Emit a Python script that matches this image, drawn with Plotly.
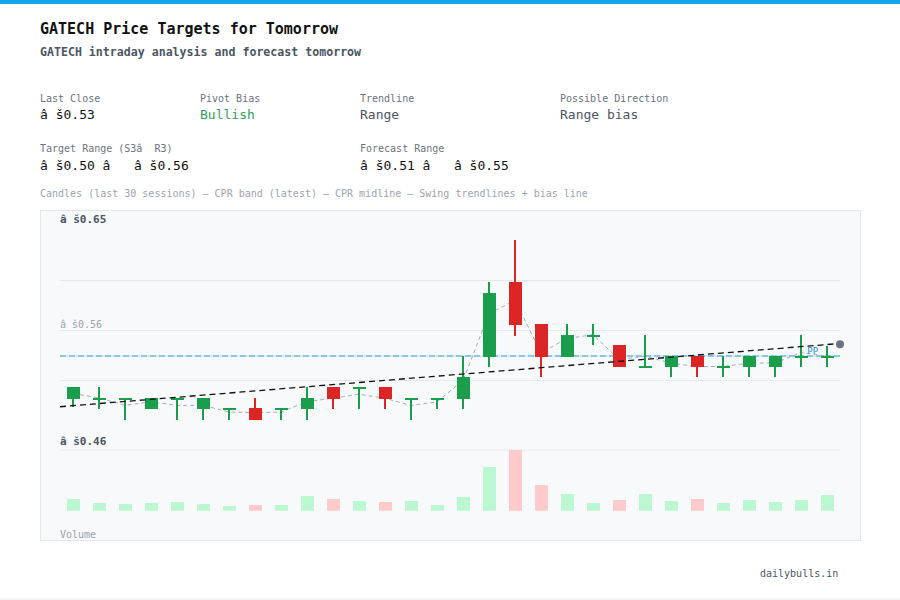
import plotly.graph_objects as go
import numpy as np

# ---------------- data ----------------
sessions = list(range(30))
opens = [0.4897, 0.4888, 0.4888, 0.4800, 0.4888, 0.4800, 0.4790, 0.4809, 0.4790, 0.4800,
         0.5009, 0.4992, 0.5009, 0.4885, 0.4885, 0.4897, 0.5297, 0.6006, 0.5607, 0.5297,
         0.5486, 0.5408, 0.5192, 0.5201, 0.5303, 0.5192, 0.5201, 0.5201, 0.5287, 0.5287]
highs = [0.5009, 0.5009, 0.4904, 0.4904, 0.4904, 0.4904, 0.4809, 0.4904, 0.4809, 0.5009,
         0.5009, 0.5009, 0.5009, 0.4901, 0.4901, 0.5303, 0.6006, 0.6405, 0.5607, 0.5607,
         0.5607, 0.5408, 0.5503, 0.5303, 0.5303, 0.5303, 0.5303, 0.5303, 0.5503, 0.5401]
lows = [0.4821, 0.4802, 0.4695, 0.4795, 0.4695, 0.4695, 0.4695, 0.4695, 0.4695, 0.4695,
        0.4800, 0.4800, 0.4800, 0.4695, 0.4800, 0.4800, 0.5201, 0.5493, 0.5101, 0.5297,
        0.5408, 0.5201, 0.5192, 0.5101, 0.5101, 0.5101, 0.5101, 0.5101, 0.5201, 0.5201]
closes = [0.5009, 0.4904, 0.4904, 0.4904, 0.4904, 0.4904, 0.4809, 0.4695, 0.4809, 0.4904,
          0.4897, 0.5009, 0.4897, 0.4901, 0.4901, 0.5106, 0.5905, 0.5600, 0.5297, 0.5503,
          0.5503, 0.5201, 0.5208, 0.5303, 0.5201, 0.5208, 0.5303, 0.5303, 0.5303, 0.5303]
volumes = [117, 77, 67, 77, 87, 67, 47, 57, 57, 147,
           117, 97, 87, 97, 57, 137, 437, 607, 257, 167,
           77, 107, 167, 97, 117, 77, 107, 87, 107, 157]
pp_level = 0.5303
cpr_bc = 0.5295
cpr_tc = 0.5312
trend_start = 0.4821
trend_end = 0.5422
bias_point = 0.5414
price_min, price_max = 0.46, 0.65
price_labels = ["â\u00a0š0.65", "â\u00a0š0.56", "â\u00a0š0.46"]

FONT = "DejaVu Sans Mono"
W, H = 900, 600
GREEN = "#1a9e4b"
RED = "#dc2626"

def px(x):
    return x / W

def py(y):
    return 1 - y / H

o = np.array(opens); c = np.array(closes); h = np.array(highs); l = np.array(lows)
up = c >= o
body_col = [GREEN if u else RED for u in up]
vol_col = ["#bbf7d0" if u else "#fecaca" for u in up]
hlc3 = (h + l + c) / 3

fig = go.Figure()

# typical-price dashed line (under candles)
fig.add_trace(go.Scatter(x=sessions, y=hlc3, mode="lines",
                         line=dict(color="#a8adb5", width=1, dash="4px,3px"),
                         xaxis="x", yaxis="y", hoverinfo="skip"))

# wicks
fig.add_trace(go.Bar(x=sessions, y=h - l, base=l, width=0.05,
                     marker=dict(color=body_col, line=dict(width=0)),
                     xaxis="x", yaxis="y3", hoverinfo="skip"))
# bodies
body_h = np.maximum(np.abs(c - o), 0.0012)
fig.add_trace(go.Bar(x=sessions, y=body_h, base=np.minimum(o, c), width=0.5,
                     marker=dict(color=body_col, line=dict(width=0)),
                     xaxis="x", yaxis="y3", hoverinfo="skip"))
# trendline + bias
fig.add_trace(go.Scatter(x=[-0.5, 29.5], y=[trend_start, trend_end], mode="lines",
                         line=dict(color="#111111", width=1.3, dash="6px,4px"),
                         xaxis="x", yaxis="y3", hoverinfo="skip", cliponaxis=False))
fig.add_trace(go.Scatter(x=[29.5], y=[bias_point], mode="markers",
                         marker=dict(color="#6b7280", size=8),
                         xaxis="x", yaxis="y3", hoverinfo="skip", cliponaxis=False))
# PP label
fig.add_trace(go.Scatter(x=[28.45], y=[pp_level], mode="text", text=["PP"],
                         textposition="top center",
                         textfont=dict(family=FONT, size=9, color="#1d8fd6"),
                         xaxis="x", yaxis="y3", hoverinfo="skip", cliponaxis=False))

# volume
fig.add_trace(go.Bar(x=sessions, y=volumes, width=0.5,
                     marker=dict(color=vol_col, line=dict(width=0)),
                     xaxis="x2", yaxis="y2", hoverinfo="skip"))

xdom = [px(60), px(840)]
fig.update_layout(
    width=W, height=H, autosize=False,
    margin=dict(l=0, r=0, t=0, b=0),
    paper_bgcolor="white", plot_bgcolor="rgba(0,0,0,0)",
    showlegend=False, barmode="overlay", bargap=0,
    xaxis=dict(domain=xdom, range=[-0.5, 29.5], visible=False, anchor="y"),
    xaxis2=dict(domain=xdom, range=[-0.5, 29.5], visible=False, anchor="y2"),
    yaxis=dict(domain=[py(430), py(230)], range=[price_min, price_max],
               tickvals=list(np.linspace(price_min, price_max, 5)),
               showticklabels=False, showgrid=True, gridcolor="#e6e8ec", gridwidth=1,
               zeroline=False, showline=False, ticks=""),
    yaxis3=dict(overlaying="y", range=[price_min, price_max], visible=False),
    yaxis2=dict(domain=[py(510.7), py(450)], range=[0, max(volumes)], visible=False),
)

shapes = [
    # top accent bar
    dict(type="rect", xref="paper", yref="paper", x0=0, x1=1, y0=py(4), y1=1,
         fillcolor="#14a4ec", line=dict(width=0), layer="below"),
    # plot box
    dict(type="rect", xref="paper", yref="paper", x0=px(40.5), x1=px(860.5), y0=py(540.5), y1=py(210.5),
         fillcolor="#f8f9fb", line=dict(color="#e3e6ea", width=1), layer="below"),
    # volume top gridline
    dict(type="line", xref="paper", yref="paper", x0=px(60), x1=px(840), y0=py(450), y1=py(450),
         line=dict(color="#e6e8ec", width=1), layer="below"),
    # bottom line
    dict(type="line", xref="paper", yref="paper", x0=0, x1=1, y0=py(599), y1=py(599),
         line=dict(color="#e5e7eb", width=1), layer="below"),
    # CPR band
    dict(type="rect", xref="x", yref="y", x0=-0.5, x1=29.5, y0=cpr_bc, y1=cpr_tc,
         fillcolor="rgba(56,170,230,0.18)", line=dict(width=0), layer="between"),
    # CPR midline
    dict(type="line", xref="x", yref="y", x0=-0.5, x1=29.5, y0=pp_level, y1=pp_level,
         line=dict(color="#3a9fdc", width=1.2, dash="6px,3px"), layer="between"),
]
fig.update_layout(shapes=shapes)

def ann(text, x, y, size, color, xanchor="left"):
    return dict(text=text, x=px(x), y=py(y), xref="paper", yref="paper",
                xanchor=xanchor, yanchor="middle", showarrow=False,
                font=dict(family=FONT, size=size, color=color))

NB = "\u00a0"
X0, X1, X2, X3 = 37.5, 197.5, 357.5, 557.5
anns = [
    ann("<b>GATECH Price Targets for Tomorrow</b>", X0, 29, 15, "#111111"),
    ann("<b>GATECH intraday analysis and forecast tomorrow</b>", X0, 52, 11.6, "#4b5563"),
    ann("Last Close", X0, 98, 10, "#6b7280"),
    ann("â" + NB + "š0.53", X0, 115, 13, "#111111"),
    ann("Pivot Bias", X1, 98, 10, "#6b7280"),
    ann("Bullish", X1, 115, 13, "#2f9e57"),
    ann("Trendline", X2, 98, 10, "#6b7280"),
    ann("Range", X2, 115, 13, "#4b5563"),
    ann("Possible Direction", X3, 98, 10, "#6b7280"),
    ann("Range bias", X3, 115, 13, "#4b5563"),
    ann("Target Range (S3â" + NB * 2 + "R3)", X0, 148, 10, "#6b7280"),
    ann("â" + NB + "š0.50" + NB + "â" + NB * 3 + "â" + NB + "š0.56", X0, 165, 13, "#111111"),
    ann("Forecast Range", X2, 148, 10, "#6b7280"),
    ann("â" + NB + "š0.51" + NB + "â" + NB * 3 + "â" + NB + "š0.55", X2, 165, 13, "#111111"),
    ann("Candles (last 30 sessions) – CPR band (latest) – CPR midline – Swing trendlines + bias line",
        X0, 194, 10, "#9ca3af"),
    ann("<b>" + price_labels[0] + "</b>", 58, 219.5, 11, "#4b5563"),
    ann(price_labels[1], 58, 324, 10, "#9ca3af"),
    ann("<b>" + price_labels[2] + "</b>", 58, 441.5, 11, "#4b5563"),
    ann("Volume", 58, 534, 10, "#9ca3af"),
    ann("dailybulls.in", 839.5, 573, 10, "#4b5563", xanchor="right"),
]
fig.update_layout(annotations=anns)

fig.write_html("out.html")
